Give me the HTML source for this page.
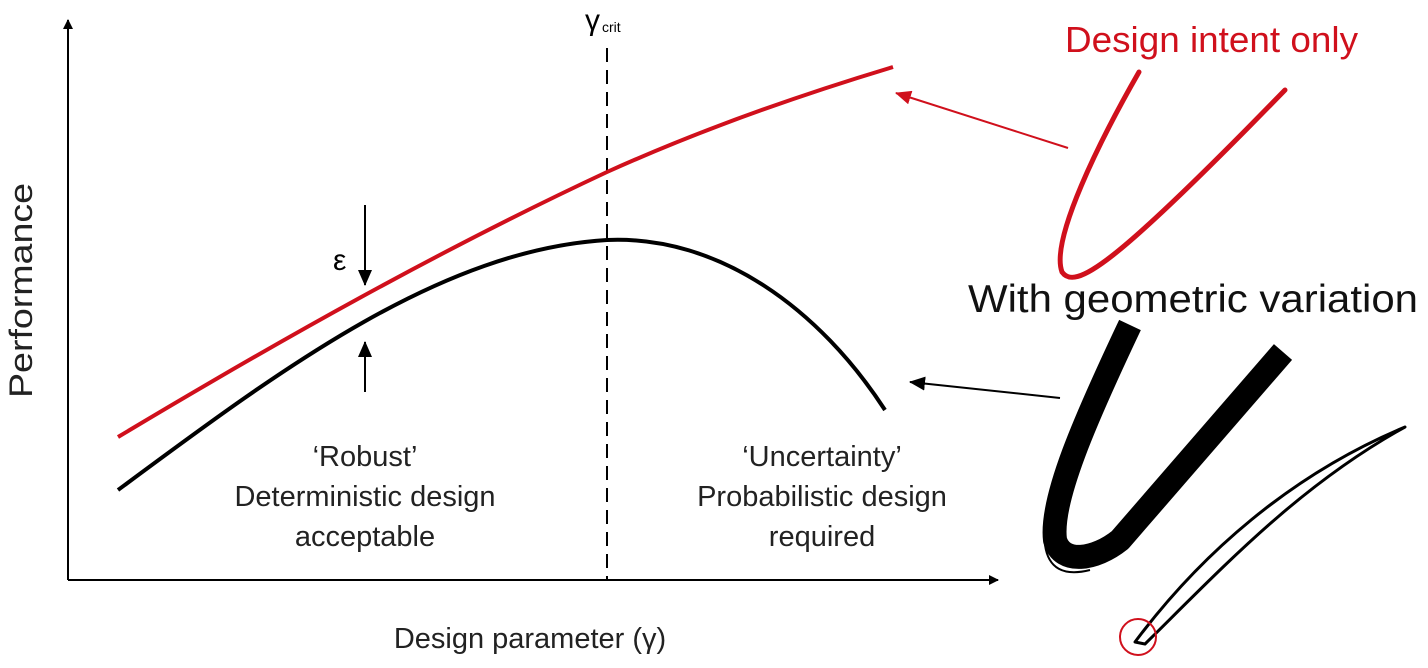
<!DOCTYPE html>
<html><head><meta charset="utf-8"><style>body{margin:0;background:#fff}svg{display:block}text{font-family:"Liberation Sans",sans-serif}</style></head><body>
<svg width="1428" height="668" viewBox="0 0 1428 668" xmlns="http://www.w3.org/2000/svg">
<defs>
<marker id="ah" markerWidth="10" markerHeight="10" refX="9" refY="5" orient="auto" markerUnits="userSpaceOnUse"><path d="M0,0 L10,5 L0,10 z" fill="#000"/></marker>
<marker id="ahb" markerWidth="16" markerHeight="14" refX="15" refY="7" orient="auto" markerUnits="userSpaceOnUse"><path d="M0,0 L16,7 L0,14 z" fill="#000"/></marker>
<marker id="ahr" markerWidth="16" markerHeight="14" refX="15" refY="7" orient="auto" markerUnits="userSpaceOnUse"><path d="M0,0 L16,7 L0,14 z" fill="#d0101c"/></marker>
</defs>
<line x1="68" y1="580" x2="68" y2="20" stroke="#000" stroke-width="2" marker-end="url(#ah)"/>
<line x1="68" y1="580" x2="998" y2="580" stroke="#000" stroke-width="2" marker-end="url(#ah)"/>
<line x1="607" y1="48" x2="607" y2="580" stroke="#000" stroke-width="2" stroke-dasharray="14,8"/>
<path d="M118,437 C280,340 440,250 607,172 C700,130 800,95 893,67" fill="none" stroke="#d0101c" stroke-width="4"/>
<path d="M118,490 C280,370 440,250 607,240 C720,235 820,310 885,410" fill="none" stroke="#000" stroke-width="4"/>
<line x1="365" y1="205" x2="365" y2="285" stroke="#000" stroke-width="2" marker-end="url(#ahb)"/>
<line x1="365" y1="392" x2="365" y2="342" stroke="#000" stroke-width="2" marker-end="url(#ahb)"/>
<text x="333" y="270" font-size="30" font-family="Liberation Serif,serif">ε</text>
<text x="585" y="30" font-size="30" font-family="Liberation Serif,serif">γ</text>
<text x="602" y="32" font-size="14">crit</text>
<g font-size="29" text-anchor="middle" fill="#222">
<text x="365" y="466">‘Robust’</text>
<text x="365" y="506">Deterministic design</text>
<text x="365" y="546">acceptable</text>
<text x="822" y="466">‘Uncertainty’</text>
<text x="822" y="506">Probabilistic design</text>
<text x="822" y="546">required</text>
<text x="530" y="648">Design parameter (γ)</text>
</g>
<text x="1065" y="52" fill="#d0101c" font-size="36" textLength="293" lengthAdjust="spacingAndGlyphs">Design intent only</text>
<text x="968" y="312" fill="#111" font-size="39" textLength="450" lengthAdjust="spacingAndGlyphs">With geometric variation</text>
<text transform="translate(32,398) rotate(-90)" font-size="32" fill="#222" textLength="215" lengthAdjust="spacingAndGlyphs">Performance</text>
<line x1="1068" y1="148" x2="896" y2="93" stroke="#d0101c" stroke-width="2" marker-end="url(#ahr)"/>
<line x1="1060" y1="398" x2="910" y2="382" stroke="#000" stroke-width="2" marker-end="url(#ahb)"/>
<path d="M1139,72 C1100,140 1050,240 1062,272 C1075,290 1110,270 1285,90" fill="none" stroke="#d0101c" stroke-width="5" stroke-linecap="round"/>
<path d="M1130,325 C1085,420 1050,500 1055,540 C1062,565 1095,560 1120,540 L1283,352" fill="none" stroke="#000" stroke-width="24" stroke-linejoin="round"/>
<path d="M1045,545 Q1050,580 1090,570" fill="none" stroke="#000" stroke-width="2"/>
<path d="M1135,642 C1200,555 1290,475 1405,427 C1300,485 1225,565 1145,644 z" fill="#fff" stroke="#000" stroke-width="3" stroke-linejoin="round"/>
<circle cx="1138" cy="637" r="18" fill="none" stroke="#d0101c" stroke-width="2"/>
</svg>
</body></html>
